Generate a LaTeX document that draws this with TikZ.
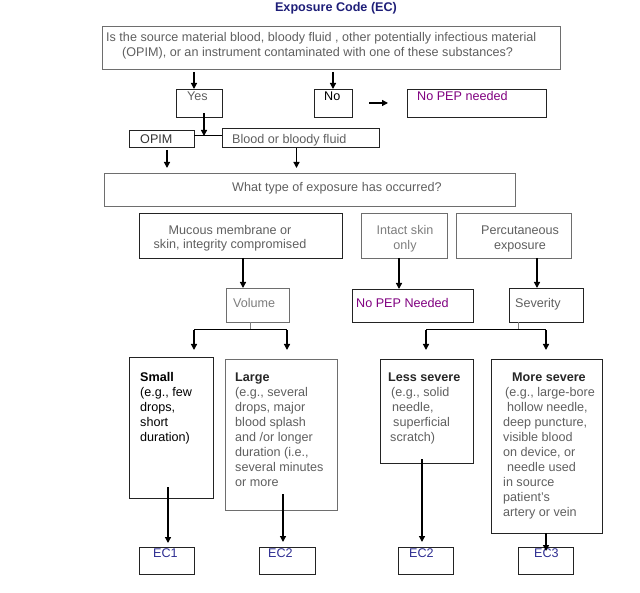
\documentclass[tikz,border=0pt]{standalone}
\usepackage{fontspec}
\setmainfont{Liberation Sans}
\usetikzlibrary{arrows.meta}
\definecolor{navy}{RGB}{30,30,120}
\definecolor{ecblue}{RGB}{45,45,145}
\definecolor{purp}{RGB}{128,0,128}
\definecolor{tgray}{RGB}{95,95,95}
\definecolor{lgray}{RGB}{125,125,125}
\definecolor{bord}{RGB}{35,35,35}
\definecolor{gbord}{RGB}{110,110,110}
\newcommand{\dfont}{\fontsize{12.6}{15}\selectfont}
\begin{document}
\begin{tikzpicture}[x=1pt,y=-1pt,
  box/.style={draw=bord, line width=0.9pt, rectangle, inner sep=0pt, outer sep=0pt},
  gbox/.style={box, draw=gbord},
  txt/.style={inner sep=0pt, anchor=north west, align=left, font=\dfont, text=tgray},
  ctxt/.style={inner sep=0pt, anchor=north, align=center, font=\dfont, text=tgray},
  arr/.style={line width=1.3pt, -{Triangle[length=6pt,width=6pt]}},
  ln/.style={line width=1pt}]
\useasboundingbox (0,0) rectangle (640,593);
% boxes
\node[gbox, minimum width=458pt, minimum height=43pt] (q1) at (331,47.5) {};
\node[box, minimum width=46pt, minimum height=28pt] (yes) at (199,103) {};
\node[box, minimum width=38pt, minimum height=28pt] (no) at (333,103) {};
\node[box, minimum width=139pt, minimum height=28pt] (nopep1) at (476.5,103) {};
\node[box, minimum width=65pt, minimum height=17pt] (opim) at (161.5,138.5) {};
\node[box, minimum width=157pt, minimum height=19pt] (blood) at (300.5,137.5) {};
\node[gbox, minimum width=411pt, minimum height=33pt] (q2) at (309.5,189.5) {};
\node[box, minimum width=203pt, minimum height=45pt] (mucous) at (240.5,235.5) {};
\node[gbox, minimum width=86pt, minimum height=45pt] (intact) at (404,235.5) {};
\node[gbox, minimum width=115pt, minimum height=45pt] (percut) at (513.5,235.5) {};
\node[gbox, minimum width=63pt, minimum height=34pt] (volume) at (257.5,305) {};
\node[box, minimum width=121pt, minimum height=33pt] (nopep2) at (412.5,305.5) {};
\node[box, minimum width=74pt, minimum height=34pt] (severity) at (546,305) {};
\node[box, minimum width=84pt, minimum height=141pt] (small) at (171,427.5) {};
\node[gbox, minimum width=112pt, minimum height=151pt] (large) at (281,434.5) {};
\node[box, minimum width=93pt, minimum height=104pt] (less) at (426.5,411) {};
\node[box, minimum width=111pt, minimum height=174pt] (more) at (546.5,446) {};
\node[box, minimum width=55pt, minimum height=27pt] (ec1) at (166.5,560.5) {};
\node[box, minimum width=56pt, minimum height=27pt] (ec2a) at (287,560.5) {};
\node[box, minimum width=55pt, minimum height=27pt] (ec2b) at (425.5,560.5) {};
\node[box, minimum width=55pt, minimum height=27pt] (ec3) at (545.5,560.5) {};
% texts
\node[font=\dfont\bfseries, text=navy, inner sep=0pt] (title) at (336,8) {Exposure Code (EC)};
\node[txt] (q1t) at (106,31) {\strut Is the source material blood, bloody fluid , other potentially infectious material\\\hspace*{16pt}(OPIM), or an instrument contaminated with one of these substances?};
\node[txt] (yest) at (187,90) {\strut Yes};
\node[txt, text=black] (not) at (324,90) {\strut No};
\node[txt, text=purp] (nopep1t) at (417,90) {\strut No PEP needed};
\node[txt, text=black!80] (opimt) at (140,133) {\strut OPIM};
\node[txt] (bloodt) at (232,133) {\strut Blood or bloody fluid};
\node[txt] (q2t) at (232,181) {\strut What type of exposure has occurred?};
\node[ctxt] (mucoust) at (230,224) {\strut Mucous membrane or\\[-1.5pt] skin, integrity compromised};
\node[ctxt, text=lgray] (intactt) at (405,224) {\strut Intact skin\\only};
\node[ctxt] (percutt) at (520,224) {\strut Percutaneous\\exposure};
\node[txt, text=lgray] (volumet) at (233,297) {\strut Volume};
\node[txt, text=purp] (nopep2t) at (356,297) {\strut No PEP Needed};
\node[txt] (severityt) at (515,297) {\strut Severity};
\node[txt, text=black] (smallt) at (140,371) {\strut\textbf{Small}\\(e.g., few\\drops,\\short\\duration)};
\node[txt] (larget) at (235,371) {\strut\textbf{\color{black!85}Large}\\(e.g., several\\drops, major\\blood splash\\and /or longer\\duration (i.e.,\\several minutes\\or more};
\node[txt] (lesst) at (388,371) {\strut\textbf{\color{black!85}Less severe}\\\hspace*{3pt}(e.g., solid\\\hspace*{4pt}needle,\\\hspace*{5pt}superficial\\\hspace*{2pt}scratch)};
\node[txt] (moret) at (503,371) {\strut\hspace*{9pt}\textbf{\color{black!85}More severe}\\\hspace*{2pt}(e.g., large-bore\\\hspace*{4pt}hollow needle,\\deep puncture,\\visible blood\\on device, or\\\hspace*{4pt}needle used\\in source\\patient's\\artery or vein};
\node[txt, text=ecblue] (ec1t) at (153,547) {\strut EC1};
\node[txt, text=ecblue] (ec2at) at (268,547) {\strut EC2};
\node[txt, text=ecblue] (ec2bt) at (409,547) {\strut EC2};
\node[txt, text=ecblue] (ec3t) at (534,547) {\strut EC3};
% connectors
\draw[arr, shorten <=3pt] ([xshift=-5pt]yes.north |- q1.south) -- ([xshift=-5pt]yes.north);
\draw[arr, shorten <=3pt] (no.north |- q1.south) -- (no.north);
\draw[arr, shorten <=17pt, shorten >=19pt] (no.east) -- (nopep1.west);
\coordinate (j) at (204,136);
\draw[ln] (opim.east |- j) -- (blood.west |- j);
\draw[arr] ([xshift=5pt,yshift=4pt]yes.south) -- (j);
\draw[arr, shorten <=3pt, shorten >=5pt] ([xshift=5.5pt]opim.south) -- ([xshift=5.5pt]opim.south |- q2.north);
\draw[arr, shorten <=1pt, shorten >=5pt] ([xshift=-4pt]blood.south) -- ([xshift=-4pt]blood.south |- q2.north);
\draw[arr] ([xshift=2.5pt]mucous.south) -- ([xshift=2.5pt]mucous.south |- volume.north);
\draw[arr] ([xshift=-5pt]intact.south) -- ([xshift=-5pt]intact.south |- nopep2.north);
\draw[arr] ([xshift=23.5pt]percut.south) -- ([xshift=23.5pt]percut.south |- severity.north);
\coordinate (vl) at (194,330);
\coordinate (vr) at (287,330);
\draw[line width=0.6pt, gray] ([xshift=-7.5pt]volume.south) -- ([xshift=-7.5pt]volume.south |- vl);
\draw[ln] (vl) -- (vr);
\draw[arr, shorten >=7pt] (vl) -- (vl |- small.north);
\draw[arr, shorten >=9pt] (vr) -- (vr |- large.north);
\coordinate (sl) at (426,330);
\coordinate (sr) at (546,330);
\draw[line width=0.6pt, gray] ([xshift=-28pt]severity.south) -- ([xshift=-28pt]severity.south |- sl);
\draw[ln] (sl) -- (sr);
\draw[arr, shorten >=9pt] (sl) -- (sl |- less.north);
\draw[arr, shorten >=9pt] (sr) -- (sr |- more.north);
\draw[arr, shorten >=4pt] ([xshift=-3pt,yshift=11pt]small.south) -- ([xshift=-3pt]small.south |- ec1.north);
\draw[arr, shorten >=5pt] ([xshift=2pt,yshift=16pt]large.south) -- ([xshift=2pt]large.south |- ec2a.north);
\draw[arr, shorten >=5pt] ([xshift=-4.5pt,yshift=4pt]less.south) -- ([xshift=-4.5pt]less.south |- ec2b.north);
\draw[arr, shorten >=-4pt] ([xshift=-0.5pt]more.south) -- ([xshift=-0.5pt]more.south |- ec3.north);
\end{tikzpicture}
\end{document}
